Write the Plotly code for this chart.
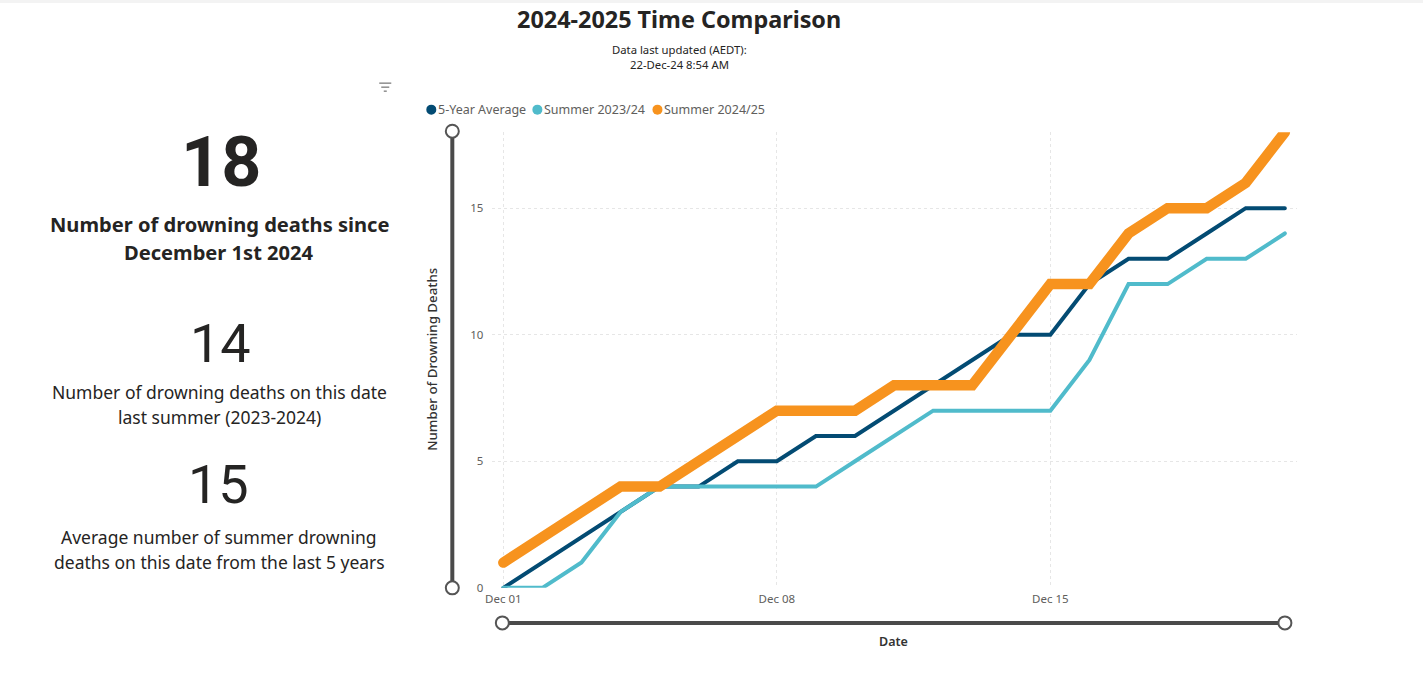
import plotly.graph_objects as go

W, H = 1423, 697

dates = ["2024-12-%02d" % d for d in range(1, 22)]
avg_5yr = [0, 1, 2, 3, 4, 4, 5, 5, 6, 6, 7, 8, 9, 10, 10, 12, 13, 13, 14, 15, 15]
summer_2324 = [0, 0, 1, 3, 4, 4, 4, 4, 4, 5, 6, 7, 7, 7, 7, 9, 12, 12, 13, 13, 14]
summer_2425 = [1, 2, 3, 4, 4, 5, 6, 7, 7, 7, 8, 8, 8, 10, 12, 12, 14, 15, 15, 16, 18]
series_names = ["5-Year Average", "Summer 2023/24", "Summer 2024/25"]
y_ticks = [0, 5, 10, 15]

NAVY, TEAL, ORANGE = "#034B73", "#50BBCB", "#F7931E"
BODY = "Noto Sans"
DIGITS = "Roboto"
INK = "#252423"

# the drawn paper area sits at (7, 0) and measures 1415 x 689
PAPER_L, PAPER_W, PAPER_H = 7, 1415, 689


def px(x):
    return (x - PAPER_L) / PAPER_W


def py(y):
    return 1 - y / PAPER_H


fig = go.Figure()
for name, vals, color, width in [
    (series_names[0], avg_5yr, NAVY, 4),
    (series_names[1], summer_2324, TEAL, 4),
    (series_names[2], summer_2425, ORANGE, 10.5),
]:
    fig.add_trace(go.Scatter(x=dates, y=vals, name=name, mode="lines",
                             line=dict(color=color, width=width), showlegend=False))


def text(s, x, y, size, color=INK, family=BODY, anchor="center", angle=0, weight=400):
    fig.add_annotation(text=s, x=px(x), y=py(y), xref="paper", yref="paper",
                       xanchor=anchor, yanchor="middle", showarrow=False, textangle=angle,
                       font=dict(size=size, color=color, family=family, weight=weight))


text("2024-2025 Time Comparison", 679, 19, 23.4, weight=700)
text("Data last updated (AEDT):", 679, 49.5, 11.3)
text("22-Dec-24 8:54 AM", 679, 64.5, 11.3)

text("18", 221, 162, 70, family=DIGITS, weight=700)
text("Number of drowning deaths since", 219, 224, 20.1, weight=700)
text("December 1st 2024", 219, 252, 20.1, weight=700)
text("14", 220, 343, 54, family=DIGITS)
text("Number of drowning deaths on this date", 219, 391, 17.5)
text("last summer (2023-2024)", 219, 416, 17.5)
text("15", 218, 484, 54, family=DIGITS)
text("Average number of summer drowning", 219, 536, 17.5)
text("deaths on this date from the last 5 years", 219, 561, 17.5)

text("Number of Drowning Deaths", 431, 359, 13.3, angle=-90, color="#333333", weight=500)
text("Date", 893, 640.5, 12.5, color="#333333", weight=600)

shapes = [
    dict(type="rect", x0=px(0), x1=px(W), y0=py(3), y1=1, xref="paper", yref="paper",
         fillcolor="#F3F3F3", line_width=0),
]


def circle(cx, cy, r, fill, line=None, lw=0):
    shapes.append(dict(type="circle", xref="paper", yref="paper", x0=px(cx - r), x1=px(cx + r),
                       y0=py(cy + r), y1=py(cy - r), fillcolor=fill,
                       line=dict(color=line or fill, width=lw), layer="above"))


def seg(x0, y0, x1, y1, color, w):
    shapes.append(dict(type="line", xref="paper", yref="paper", x0=px(x0), x1=px(x1),
                       y0=py(y0), y1=py(y1), line=dict(color=color, width=w), layer="above"))


# legend
for name, color, cx, tx in zip(series_names, [NAVY, TEAL, ORANGE], [431, 537, 657], [436, 542, 662]):
    circle(cx, 109.5, 5, color)
    text(name, tx, 109.5, 12.5, color="#605E5C", anchor="left")

# filter icon
seg(379, 83, 391, 83, "#555555", 1)
seg(381, 87, 389, 87, "#555555", 1)
seg(383.5, 91, 386.5, 91, "#555555", 1)

# axis sliders
seg(452, 131, 452, 587, "#4A4A4A", 4)
seg(502, 622, 1284, 622, "#4A4A4A", 4)
for cx, cy in [(452, 131), (452, 587), (502, 622), (1284, 622)]:
    circle(cx, cy, 6.5, "#FFFFFF", "#555555", 2)

fig.update_layout(
    width=W, height=H, autosize=False, margin=dict(l=0, r=0, t=0, b=0),
    paper_bgcolor="white", plot_bgcolor="white", showlegend=False, shapes=shapes,
    font=dict(family=BODY),
    xaxis=dict(domain=[px(492), px(1296)], type="date",
               range=["2024-11-30 17:15", "2024-12-21 07:25"],
               tick0="2024-12-01", dtick=7 * 86400000, tickformat="%b %d",
               showgrid=True, gridcolor="#E6E6E6", griddash="dot", gridwidth=1, zeroline=False,
               showline=False, ticks="", ticklabelstandoff=3, tickfont=dict(size=11.5, color="#605E5C")),
    yaxis=dict(domain=[py(587), py(132)], range=[0, 18], tickvals=y_ticks,
               showgrid=True, gridcolor="#E6E6E6", griddash="dot", gridwidth=1, zeroline=False,
               showline=False, ticks="", ticklabelstandoff=8, tickfont=dict(size=11.5, color="#605E5C")),
)

fig.write_html("out.html", config={"displayModeBar": False}, post_script=(
    "document.documentElement.style.margin='0';document.body.style.margin='0';"
    "document.documentElement.style.overflow='hidden';"
    "var gd=document.getElementById('{plot_id}');"
    "function caps(){document.querySelectorAll('.js-line').forEach(function(p){p.style.strokeLinecap='round';});}"
    "Plotly.relayout(gd,{width:1423,height:697}).then(caps);caps();"
))
